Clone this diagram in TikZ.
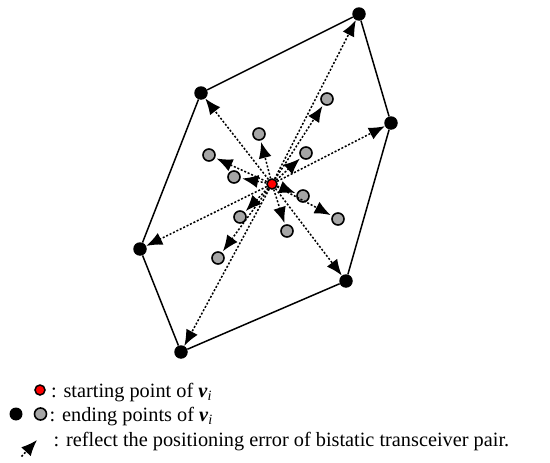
\documentclass[tikz,border=0pt]{standalone}
\usepackage{fontspec}
\setmainfont{Liberation Serif}
\usetikzlibrary{arrows.meta}

\tikzset{
  blackpt/.style={circle, fill=black, inner sep=0pt, minimum size=13.5pt},
  graypt/.style={circle, draw=black, line width=1.6pt, fill=gray!70, inner sep=0pt, minimum size=12pt},
  startpt/.style={circle, draw=black, line width=1.5pt, fill=red, inner sep=0pt, minimum size=10pt},
  rim/.style={line width=1.5pt},
  errarrow/.style={line width=1.5pt, dash pattern=on 2pt off 1.8pt, -{Latex[length=16pt,width=13pt]}},
  legtext/.style={anchor=base west, inner sep=0pt, font=\fontsize{20.3}{23}\selectfont},
}

\begin{document}
\begin{tikzpicture}[x=1pt, y=-1pt]
\useasboundingbox (0,0) rectangle (550,463);

% ending points (black)
\node[blackpt] (top) at (359,14) {};
\node[blackpt] (rt)  at (391,123) {};
\node[blackpt] (lr)  at (346,281) {};
\node[blackpt] (bot) at (181,352) {};
\node[blackpt] (lt)  at (140,249) {};
\node[blackpt] (ul)  at (201,93) {};

% ending points (gray)
\node[graypt] (g1)  at (259,134) {};
\node[graypt] (g2)  at (209,155) {};
\node[graypt] (g3)  at (234,177) {};
\node[graypt] (g4)  at (306,153) {};
\node[graypt] (g5)  at (327,99) {};
\node[graypt] (g6)  at (303,196) {};
\node[graypt] (g7)  at (338,219) {};
\node[graypt] (g8)  at (287,231) {};
\node[graypt] (g9)  at (240,217) {};
\node[graypt] (g10) at (218,258) {};

% starting point
\node[startpt] (o) at (272,184) {};

\draw[rim] (top) -- (rt) -- (lr) -- (bot) -- (lt) -- (ul) -- (top);

\foreach \p in {top,rt,lr,bot,lt,ul}
  \draw[errarrow] (o) -- (\p);
\foreach \p in {g1,g2,g3,g4,g5,g6,g7,g8,g9,g10}
  \draw[errarrow, shorten >=1.5pt] (o) -- (\p);

% legend
\node[startpt] (lred) at (40,390) {};
\node[legtext] (t1) at (51,397.5) {: starting point of \textbf{\textit{v}}\textsubscript{\textit{i}}};
\node[blackpt, minimum size=13pt] (lblack) at (16,414) {};
\node[graypt] (lgray) at (40.5,414) {};
\node[legtext] (t2) at (49.5,421.5) {: ending points of \textbf{\textit{v}}\textsubscript{\textit{i}}};
\coordinate (la) at (21.5,456.5);
\coordinate (lb) at (37,440);
\draw[errarrow] (la) -- (lb);
\node[legtext] (t3) at (53.5,446) {: reflect the positioning error of bistatic transceiver pair.};
\end{tikzpicture}
\end{document}
